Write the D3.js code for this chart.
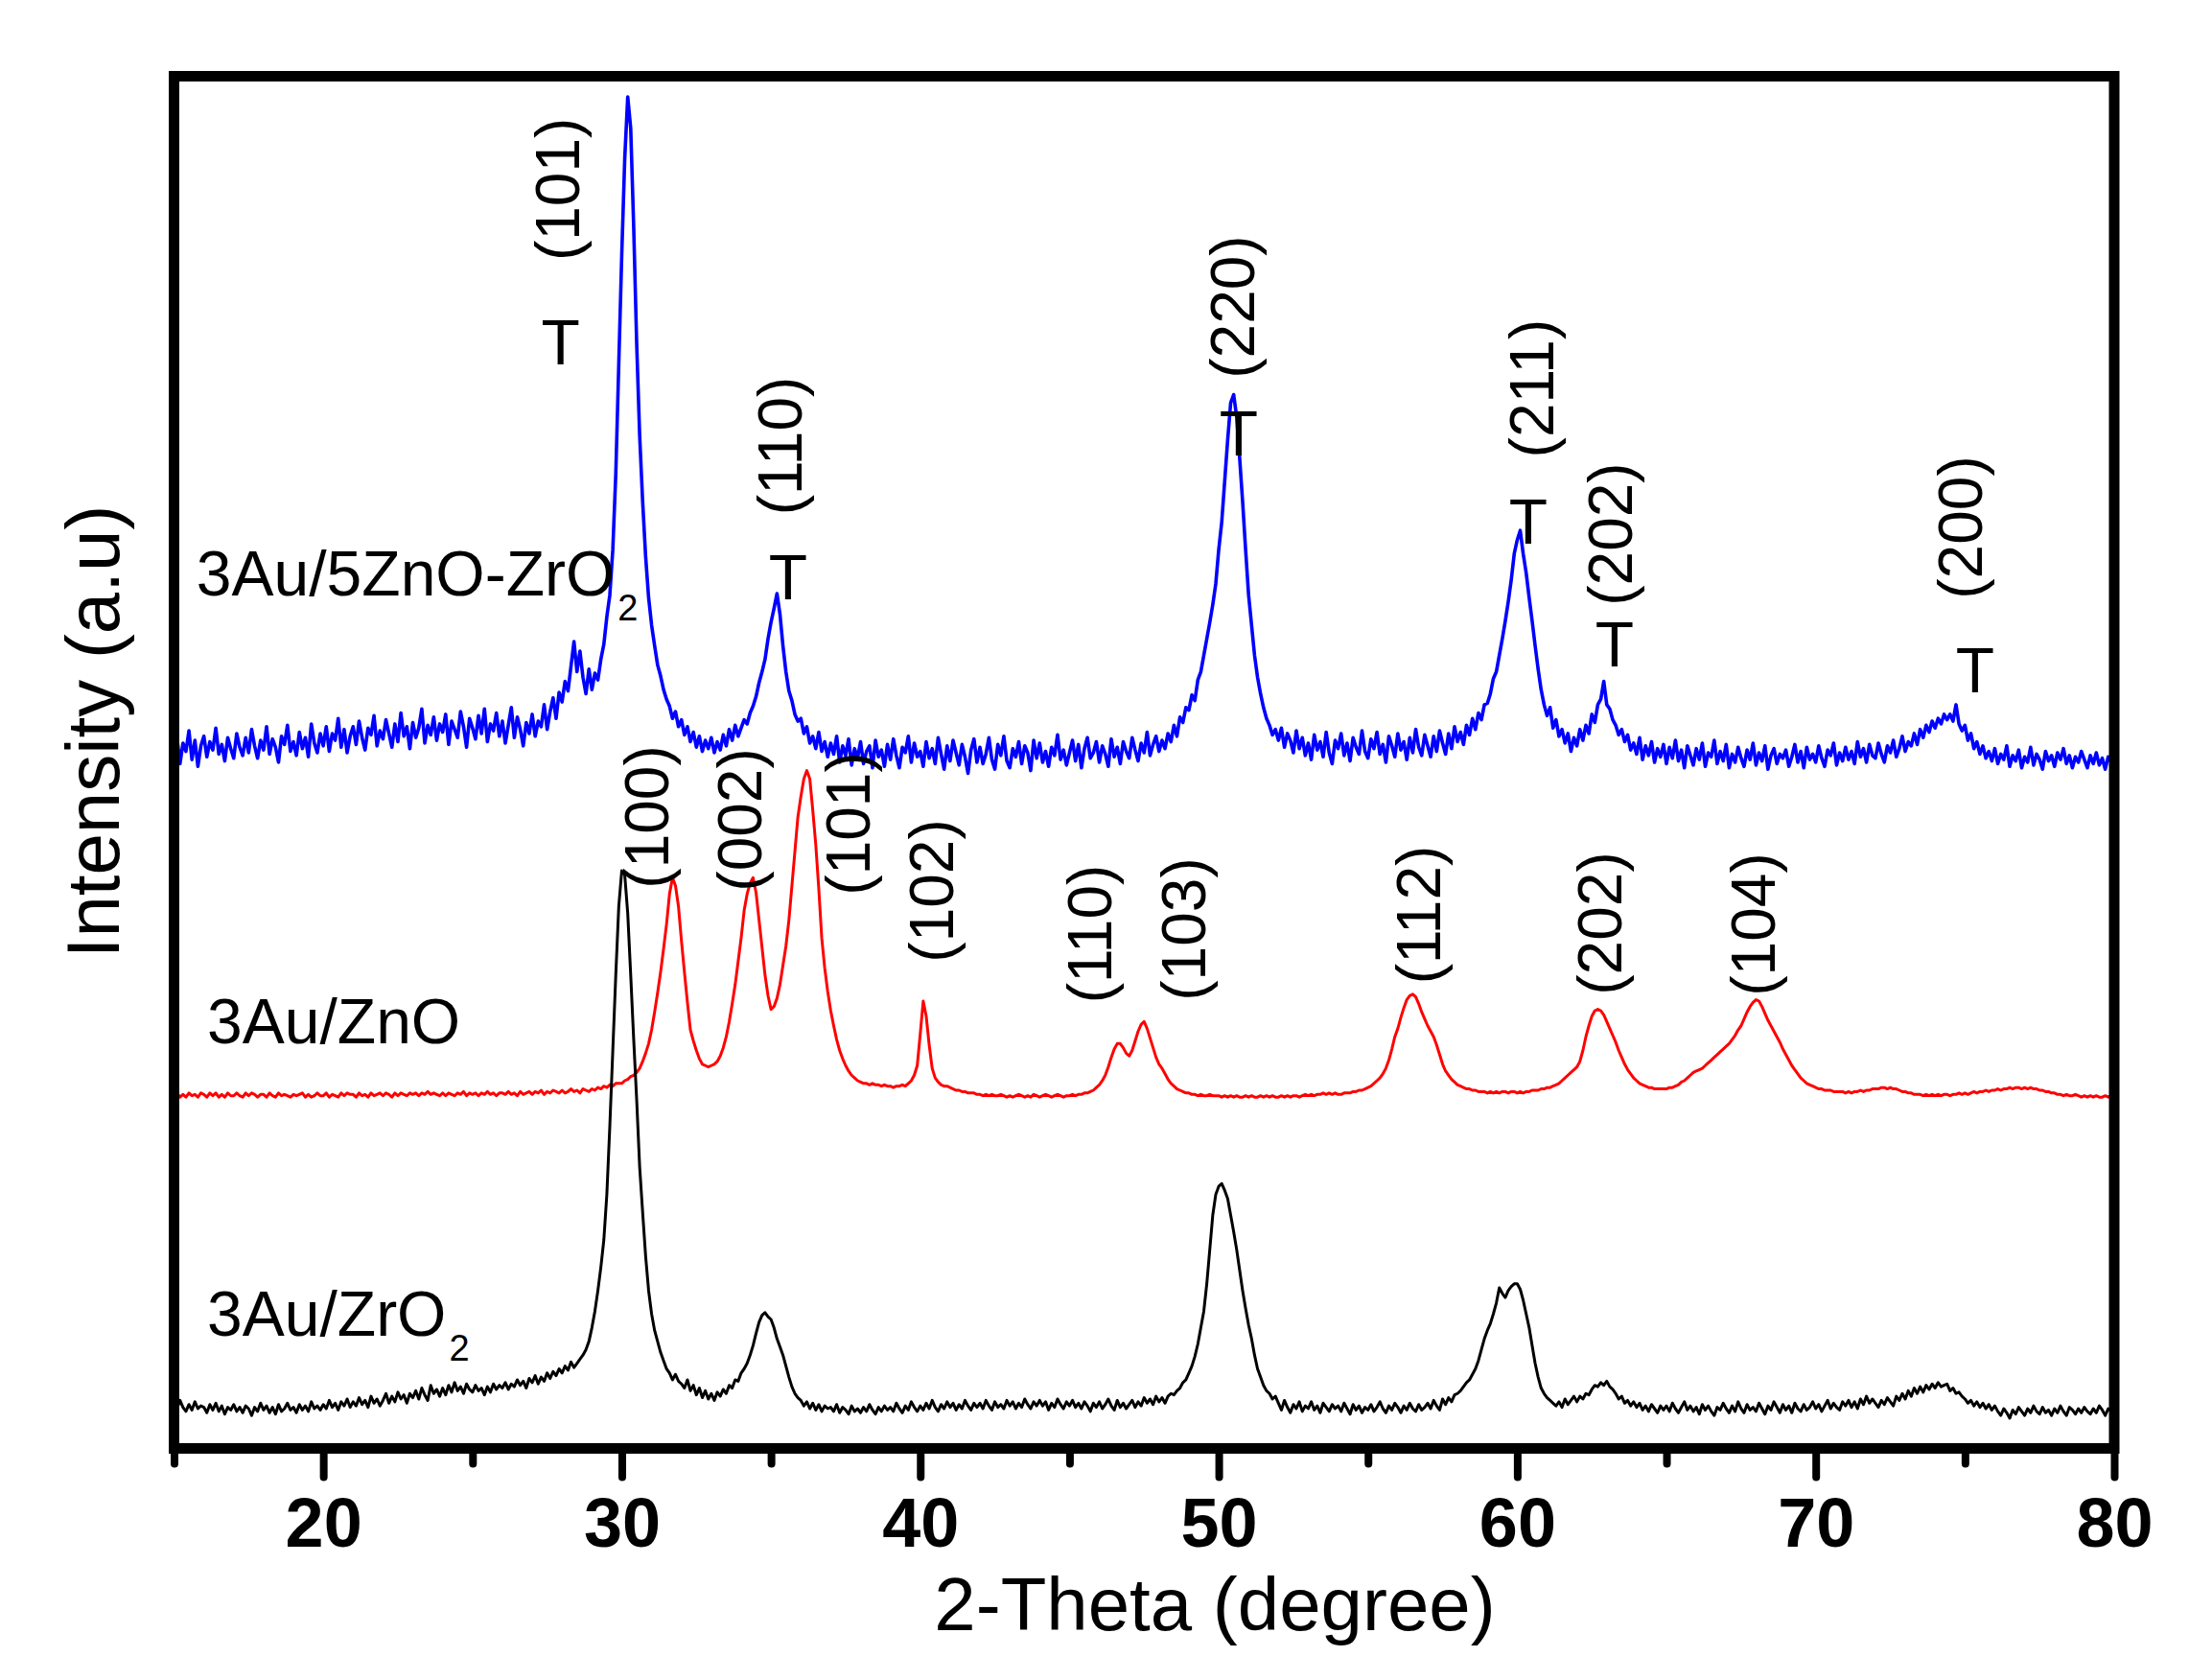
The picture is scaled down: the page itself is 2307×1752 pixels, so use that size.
<!DOCTYPE html>
<html><head><meta charset="utf-8">
<script src="https://cdn.jsdelivr.net/npm/d3@7/dist/d3.min.js"></script>
<style>html,body{margin:0;padding:0;background:#fff}</style>
</head><body>
<svg id="chart" width="2307" height="1752"></svg>
<script>
// ---- data: 2-theta grid 15.0 .. 80.0 step 0.1 ----
const thetaStart = 15, thetaStep = 0.1;

// 3Au/ZrO2 (black)
const auZrO2 = [
33,29,35,30,27,32,28,34,29,31, 30,26,32,28,33,27,31,25,30,28, 32,27,30,26,31,29,24,30,27,33,
28,31,26,30,25,32,27,29,33,28, 30,26,32,28,31,27,34,29,31,28, 32,29,35,30,33,28,34,31,36,30,
34,31,37,32,35,30,38,33,36,31, 35,40,33,38,34,41,36,39,33,40, 37,42,36,44,39,35,46,40,43,38,
44,39,46,41,48,42,45,40,47,43, 41,46,42,44,39,45,41,47,43,46, 44,48,43,47,45,50,46,49,44,51,
48,53,47,52,49,55,51,56,53,58, 55,60,57,63,59,62,65,68,72,78, 88,100,115,132,152,185,235,290,345,395,
421,418,390,345,298,254,205,172,140,115, 98,86,78,70,64,58,55,50,54,49, 47,44,50,42,46,39,44,37,42,36,
40,35,41,38,43,40,46,44,50,49, 55,58,62,68,75,84,92,97,99,96, 94,88,80,74,68,60,52,45,40,37,
35,31,34,29,33,28,32,27,31,29, 30,27,32,26,30,28,25,31,27,29, 26,30,27,32,28,25,30,27,31,28,
30,27,33,29,26,31,28,34,30,27, 31,28,33,29,35,30,27,32,29,34, 30,33,28,32,29,35,31,28,33,30,
33,29,35,31,28,34,30,32,29,35, 31,34,29,33,30,36,32,29,34,31, 35,31,34,28,33,30,36,32,29,34,
31,35,30,33,29,34,31,27,33,30, 34,29,32,36,31,28,35,30,33,29, 32,35,30,34,31,37,33,36,32,38,
34,37,33,38,40,39,42,44,48,50, 55,60,67,76,88,100,120,145,170,185, 191,193,188,182,170,158,145,130,115,102,
90,80,68,58,52,46,42,40,36,38, 33,28,35,30,26,32,29,34,27,31, 29,34,28,31,26,33,30,27,32,29,
31,27,33,29,25,32,28,31,26,30, 28,32,27,30,34,29,26,31,28,33, 30,26,31,28,33,29,27,32,28,30,
33,29,35,31,28,36,32,37,34,39, 40,42,45,48,50,54,58,64,72,80, 86,91,98,106,117,113,110,115,118,120,
120,116,108,98,88,75,62,52,44,40, 37,35,33,31,34,30,36,32,35,38, 34,38,36,40,39,43,46,45,48,46,
49,45,43,40,36,38,33,35,31,34, 30,33,28,31,27,32,29,26,31,28, 31,27,33,29,26,30,34,28,31,27,
30,25,32,28,31,27,24,30,28,33, 29,26,31,27,34,29,26,32,28,30, 27,33,29,25,31,28,34,30,26,32,
28,31,26,33,29,27,32,28,30,34, 29,32,27,31,35,29,33,30,28,34, 31,35,30,34,29,36,32,38,33,36,
33,30,35,32,37,34,31,38,35,40, 36,42,38,44,40,45,41,46,43,47, 44,48,45,46,47,42,44,40,41,38,
36,33,35,31,34,30,33,29,32,28, 31,27,24,29,26,22,28,25,30,27, 24,29,26,31,27,25,30,26,28,24,
29,26,31,27,24,30,28,25,29,26, 30,27,25,29,26,31,28,24,29,27, 28];

// 3Au/ZnO (red)
const auZnO = [
257,259,256,258,256,259,257,258,256,259, 258,256,259,257,259,256,258,256,259,257, 257,259,257,256,259,257,259,258,256,258,
258,256,259,257,256,259,257,258,257,256, 258,257,258,259,256,258,256,257,259,257, 257,259,256,258,257,256,259,257,259,258,
258,256,259,257,258,256,259,257,258,259, 257,259,258,256,259,257,259,258,257,259, 258,259,257,259,258,260,258,259,258,257,
259,257,259,258,257,259,258,260,257,259, 258,259,257,259,258,260,258,259,257,259, 259,258,260,258,259,257,260,258,259,260,
258,260,259,261,258,260,259,261,260,259, 261,259,260,262,260,261,259,262,261,260, 262,261,263,262,264,263,265,264,266,266,
266,268,269,271,272,274,277,282,288,295, 305,318,332,347,364,382,404,416,410,395, 370,347,325,305,297,290,284,280,279,278,
279,280,282,286,292,300,311,324,338,355, 372,392,404,412,416,405,385,365,345,330, 320,322,328,338,352,366,385,410,435,460,
475,488,494,488,465,440,408,372,350,333, 319,308,298,290,284,279,275,272,270,268, 267,266,266,265,266,265,265,264,265,264,
264,263,264,264,265,264,266,268,272,279, 302,326,315,294,277,270,267,265,264,264, 263,262,261,261,260,260,259,259,259,258,
258,257,258,257,258,257,257,258,257,256, 257,256,257,258,257,256,257,256,258,257, 256,257,258,257,256,257,258,257,256,257,
257,258,257,258,258,259,259,260,261,263, 265,268,272,278,285,291,295,295,292,288, 286,290,297,304,309,311,306,299,292,285,
280,277,273,269,266,264,262,261,260,259, 259,258,258,257,258,257,257,258,257,257, 257,256,257,256,257,256,257,256,256,257,
256,257,256,256,257,256,257,256,257,256, 256,257,256,257,256,257,257,256,257,258, 257,258,257,258,258,259,258,259,258,259,
258,258,259,259,259,260,260,261,261,262, 263,264,266,268,270,273,277,283,291,300, 306,314,321,327,330,331,329,324,318,313,
308,304,300,294,287,280,275,272,269,267, 265,264,263,262,262,261,261,260,260,260, 259,260,259,260,259,260,260,259,260,260,
259,260,259,260,260,261,261,261,262,262, 263,263,264,265,266,268,270,272,274,276, 278,282,290,300,308,315,319,320,319,316,
311,306,301,296,290,285,280,276,273,270, 268,266,265,264,263,263,262,262,262,262, 262,263,263,264,265,267,268,270,272,274,
275,276,277,279,281,283,285,287,289,291, 293,295,298,301,305,308,313,318,322,325, 327,326,322,317,312,308,304,300,296,291,
287,283,279,276,273,270,268,266,265,264, 263,262,262,261,261,261,260,260,260,260, 259,260,259,260,260,261,260,261,261,262,
262,262,263,263,262,263,262,262,261,260, 260,259,259,258,258,258,257,258,257,258, 257,258,257,258,258,257,258,258,259,258,
259,258,259,260,259,260,260,261,260,261, 261,262,261,262,262,263,262,263,263,262, 263,262,263,262,262,261,261,260,260,259,
259,258,258,257,258,257,257,258,257,256, 257,256,257,256,257,256,256,257,256,257, 256];

// 3Au/5ZnO-ZrO2 (blue)
const auZnOZrO2 = [
505,518,499,514,508,523,502,516,497,512, 519,504,515,509,525,506,513,501,518,510, 503,521,511,505,518,507,524,512,503,516,
509,526,506,517,511,500,519,513,527,508, 515,505,522,510,518,504,528,514,507,521, 512,526,508,521,516,532,511,524,507,519,
526,513,530,518,509,525,520,534,512,523, 517,531,521,511,528,515,536,519,526,510, 529,518,525,539,514,527,520,533,516,528,
522,535,513,530,524,518,537,526,511,532, 525,517,534,521,539,515,528,523,536,519, 530,514,527,540,518,533,524,512,529,521,
535,519,530,526,542,524,537,547,532,551, 544,559,552,570,588,566,581,562,550,568, 553,565,560,575,586,606,622,655,710,790,
870,940,985,962,890,805,738,690,650,620, 600,585,571,563,553,546,541,532,537,526, 531,520,526,515,522,511,519,508,516,510,
518,507,515,509,520,512,524,516,527,519, 525,531,528,536,541,548,558,566,575,590, 602,612,623,608,585,566,552,545,535,530,
532,521,526,514,519,510,522,508,515,504, 514,506,519,500,512,505,517,498,510,503, 515,499,508,512,496,516,504,509,497,513,
502,517,505,496,511,507,519,500,514,504, 508,497,515,503,510,499,518,506,495,512, 501,516,507,498,513,504,492,509,517,500,
511,499,506,518,502,495,513,505,519,501, 496,510,504,515,499,512,507,494,516,503, 514,500,508,497,511,505,520,502,509,498,
507,516,501,513,496,510,518,503,507,515, 500,512,506,497,517,504,511,499,515,508, 503,518,509,501,514,507,522,505,513,519,
508,516,510,521,515,527,519,533,529,540, 538,549,545,560,566,578,590,602,615,630, 655,675,705,735,762,768,752,722,690,655,
622,600,578,562,550,540,532,527,520,524, 516,525,511,521,516,507,523,510,518,505, 514,502,520,509,515,504,522,507,499,516,
510,521,505,514,501,518,511,506,523,508, 503,517,510,522,506,513,500,519,512,504, 521,509,515,502,518,507,524,511,505,520,
512,504,519,508,523,514,506,521,510,526, 515,522,513,527,520,532,524,536,531,542, 543,550,561,566,578,590,603,617,633,652,
662,669,652,638,620,603,585,568,553,542, 534,540,525,531,519,524,514,521,508,518, 512,524,516,527,521,535,529,542,546,559,
542,539,531,527,520,524,515,520,509,514, 506,518,502,512,505,515,500,510,504,513, 499,511,503,516,501,509,496,512,505,498,
510,502,514,497,507,504,516,499,508,501, 513,496,506,500,511,503,497,509,502,514, 498,507,501,512,495,505,510,499,506,503,
509,497,504,513,500,508,496,511,502,506, 500,512,503,497,509,505,514,498,507,501, 511,502,508,499,515,504,510,500,513,505,
503,514,506,500,512,507,516,504,510,519, 508,515,512,521,513,524,518,527,522,530, 525,532,528,535,531,535,530,542,528,523,
527,516,521,510,515,506,512,503,508,501, 510,499,506,502,512,497,505,501,509,496, 504,500,511,498,506,502,495,508,501,505,
497,507,502,510,499,505,496,504,500,508, 502,496,505,499,507,498,503,495,504,500, 502];

const seriesColors = ["#000000", "#ff0000", "#0000ff"];
const seriesWidths = [3, 3, 3.6];

// axis ticks
const majorTicks = [20, 30, 40, 50, 60, 70, 80];
const minorTicks = [15, 25, 35, 45, 55, 65, 75];
const xDomain = [15, 80];
const yDomain = [0, 1000];

// series name labels: [text, subscript, 2theta, intensity]
const seriesLabels = [
  ["3Au/5ZnO-ZrO", "2", 15.75, 621.6],
  ["3Au/ZnO", "", 16.11, 295.2],
  ["3Au/ZrO", "2", 16.11, 82.1]
];

// reflection (hkl) labels: [text, 2theta, intensity]
const hklLabels = [
  ["(101)", 28.57, 917.6], ["(110)", 36.01, 730.6], ["(220)", 51.20, 831.9],
  ["(211)", 61.22, 772.5], ["(202)", 63.83, 666.3], ["(200)", 75.58, 671.2],
  ["(100)", 31.57, 460.2], ["(002)", 34.66, 458.1], ["(101)", 38.29, 455.3],
  ["(102)", 41.10, 406.4], ["(110)", 46.40, 374.9], ["(103)", 49.56, 378.4],
  ["(112)", 57.43, 388.9], ["(202)", 63.50, 382.6], ["(104)", 68.64, 381.9]
];
// tetragonal markers "T": [2theta, intensity]
const tMarks = [
  [27.95, 790.0], [35.57, 618.8], [50.67, 723.6],
  [60.37, 659.3], [63.26, 569.9], [75.34, 550.9]
];

// ---- drawing ----
const svg = d3.select("#chart");
const L = 181.5, R = 2205, T = 79.5, B = 1510.5;
const x = d3.scaleLinear().domain(xDomain).range([L, R]);
const y = d3.scaleLinear().domain(yDomain).range([B, T]);
const FONT = "'Liberation Sans', Arial, Helvetica, sans-serif";

const toPts = arr => arr.map((v, i) => [+(thetaStart + i * thetaStep).toFixed(1), v]);
const line = d3.line().x(d => x(d[0])).y(d => y(d[1]));

const drawOrder = [[auZnOZrO2, 2], [auZnO, 1], [auZrO2, 0]];
drawOrder.forEach(([arr, ci]) => {
  svg.append("path").datum(toPts(arr))
    .attr("d", line).attr("fill", "none")
    .attr("stroke", seriesColors[ci]).attr("stroke-width", seriesWidths[ci])
    .attr("stroke-linejoin", "round");
});

// frame
svg.append("rect").attr("x", L).attr("y", T).attr("width", R - L).attr("height", B - T)
  .attr("fill", "none").attr("stroke", "#000").attr("stroke-width", 11);

// x axis ticks (outward)
const axMajor = d3.axisBottom(x).tickValues(majorTicks).tickSize(30).tickPadding(52).tickSizeOuter(0);
const gMaj = svg.append("g").attr("transform", `translate(0,${B})`).call(axMajor);
gMaj.select(".domain").remove();
gMaj.selectAll(".tick line").attr("stroke", "#000").attr("stroke-width", 8).attr("stroke-linecap", "round");
gMaj.selectAll(".tick text").attr("font-family", FONT).attr("font-weight", "bold")
  .attr("font-size", 72).attr("fill", "#000").attr("dy", 0).attr("y", 102);
const axMinor = d3.axisBottom(x).tickValues(minorTicks).tickSize(16).tickFormat("").tickSizeOuter(0);
const gMin = svg.append("g").attr("transform", `translate(0,${B})`).call(axMinor);
gMin.select(".domain").remove();
gMin.selectAll(".tick line").attr("stroke", "#000").attr("stroke-width", 8).attr("stroke-linecap", "round");

// axis titles
svg.append("text").attr("x", 1267).attr("y", 1700).attr("text-anchor", "middle")
  .attr("font-family", FONT).attr("font-size", 78).text("2-Theta (degree)");
svg.append("text").attr("transform", "translate(124,763) rotate(-90)").attr("text-anchor", "middle")
  .attr("font-family", FONT).attr("font-size", 78).text("Intensity (a.u)");

// series labels
seriesLabels.forEach(([t, sub, tx, ty]) => {
  const tEl = svg.append("text").attr("x", x(tx)).attr("y", y(ty))
    .attr("font-family", FONT).attr("font-size", 66).text(t);
  if (sub) tEl.append("tspan").attr("font-size", 38).attr("dx", 3).attr("dy", 26).text(sub);
});

// hkl labels (rotated)
hklLabels.forEach(([t, tx, ty]) => {
  svg.append("text").attr("transform", `translate(${x(tx)},${y(ty)}) rotate(-90)`)
    .attr("text-anchor", "middle").attr("font-family", FONT).attr("font-size", 64).text(t);
});
// T markers
tMarks.forEach(([tx, ty]) => {
  svg.append("text").attr("x", x(tx)).attr("y", y(ty)).attr("text-anchor", "middle")
    .attr("font-family", FONT).attr("font-size", 66).text("T");
});
</script>
</body></html>
